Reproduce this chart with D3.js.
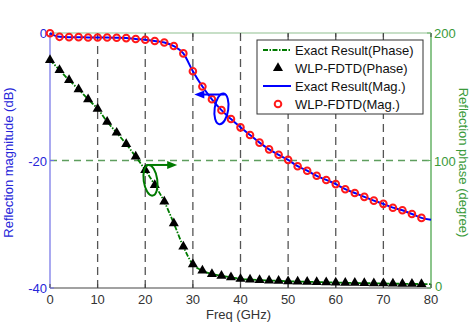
<!DOCTYPE html>
<html>
<head>
<meta charset="utf-8">
<script src="https://cdn.jsdelivr.net/npm/d3@7/dist/d3.min.js"></script>
<style>
  html, body { margin: 0; padding: 0; background: #fff; }
  svg { display: block; font-family: "Liberation Sans", Arial, sans-serif; }
</style>
</head>
<body>
<svg id="chart" width="474" height="323"></svg>
<script>
// frequency samples (GHz)
var freq = [0, 2, 4, 6, 8, 10, 12, 14, 16, 18, 20, 22, 24, 26, 28, 30, 32, 34, 36, 38,
            40, 42, 44, 46, 48, 50, 52, 54, 56, 58, 60, 62, 64, 66, 68, 70, 72, 74, 76, 78, 80];
// reflection phase (degree)
var phase = [178.8, 171, 163, 155.8, 148, 140.6, 130.4, 121.8, 112.9, 103, 92.5, 80.8, 67.7, 50.7, 32.4,
             18.6, 13.6, 11, 9.6, 8.4, 7.1, 6.6, 6.2, 5.9, 5.6, 5.3, 5.1, 4.9, 4.7, 4.5,
             4.3, 4.1, 4.0, 3.8, 3.7, 3.6, 3.4, 3.3, 3.2, 3.1, 3.0];
// reflection magnitude (dB)
var magnitude = [-0.05, -0.6, -0.65, -0.65, -0.7, -0.7, -0.7, -0.75, -0.8, -0.95, -1.05, -1.25, -1.5, -2.05, -3.2,
                 -6.0, -8.4, -10.4, -12.1, -13.5, -14.8, -16.0, -17.2, -18.25, -19.1, -19.9, -20.9, -21.6, -22.4, -23.05,
                 -23.7, -24.5, -25.1, -25.7, -26.3, -26.8, -27.4, -27.8, -28.4, -29.0, -29.3];

var xTicks = [0, 10, 20, 30, 40, 50, 60, 70, 80];
var magTicks = [0, -20, -40];
var phaseTicks = [200, 100, 0];
var legendLabels = ['Exact Result(Phase)', 'WLP-FDTD(Phase)', 'Exact Result(Mag.)', 'WLP-FDTD(Mag.)'];

// annotation marks: [freq, value] of ellipse centres and arrow ends
var magNote = { centre: [36, -11.9], from: [36.7, -9.65], to: [30.3, -9.65] };
var phaseNote = { centre: [21.1, 84.5], from: [20.2, 96.5], to: [26.7, 96.5] };

var margin = { top: 33, left: 50, bottom: 35, right: 43 };
var W = 474, H = 323;
var svg = d3.select('#chart');
var innerW = W - margin.left - margin.right;
var innerH = H - margin.top - margin.bottom;

var blue = '#0000ff', blueText = '#2626d9', blueAxis = '#6f6fe6';
var green = '#007a00', greenText = '#3a9a3a', greenAxis = '#66b266';

var x = d3.scaleLinear().domain([0, 80]).range([0, innerW]);
var yMag = d3.scaleLinear().domain([-40, 0]).range([innerH, 0]);
var yPh = d3.scaleLinear().domain([0, 200]).range([innerH, 0]);

var g = svg.append('g').attr('transform', 'translate(' + [margin.left, margin.top] + ')');

var markIdx = d3.range(freq.length - 1);  // markers at 0..78 GHz

// vertical grid
g.selectAll('.vgrid').data(xTicks.slice(1, -1)).enter().append('line')
  .attr('x1', function(d) { return x(d); }).attr('x2', function(d) { return x(d); })
  .attr('y1', 0).attr('y2', innerH)
  .style('stroke', '#555').style('stroke-width', 1.3).style('stroke-dasharray', '8,5');

// horizontal grid at -20 dB / 100 deg
g.append('line')
  .attr('x1', 0).attr('x2', innerW).attr('y1', yMag(-20)).attr('y2', yMag(-20))
  .style('stroke', '#5e9e5e').style('stroke-width', 1.3).style('stroke-dasharray', '7,5');

// frame
g.append('line').attr('x1', 0).attr('x2', innerW).attr('y1', 0).attr('y2', 0)
  .style('stroke', '#8fbf8f').style('stroke-width', 1);
g.append('line').attr('x1', 0).attr('x2', innerW).attr('y1', innerH).attr('y2', innerH)
  .style('stroke', '#444').style('stroke-width', 1.2);
g.append('line').attr('x1', 0).attr('x2', 0).attr('y1', 0).attr('y2', innerH)
  .style('stroke', blueAxis).style('stroke-width', 1.2);
g.append('line').attr('x1', innerW).attr('x2', innerW).attr('y1', 0).attr('y2', innerH)
  .style('stroke', greenAxis).style('stroke-width', 1.5);

// ticks (inward)
g.selectAll('.xtb').data(xTicks).enter().append('line')
  .attr('x1', function(d) { return x(d); }).attr('x2', function(d) { return x(d); })
  .attr('y1', innerH).attr('y2', innerH - 4).style('stroke', '#444');
g.selectAll('.xtt').data(xTicks).enter().append('line')
  .attr('x1', function(d) { return x(d); }).attr('x2', function(d) { return x(d); })
  .attr('y1', 0).attr('y2', 4).style('stroke', '#444');
g.selectAll('.ytl').data(magTicks).enter().append('line')
  .attr('x1', 0).attr('x2', 4).attr('y1', function(d) { return yMag(d); }).attr('y2', function(d) { return yMag(d); })
  .style('stroke', blueAxis);
g.selectAll('.ytr').data(phaseTicks).enter().append('line')
  .attr('x1', innerW).attr('x2', innerW - 4).attr('y1', function(d) { return yPh(d); }).attr('y2', function(d) { return yPh(d); })
  .style('stroke', greenAxis);

// tick labels
g.selectAll('.xl').data(xTicks).enter().append('text')
  .attr('x', function(d) { return x(d); }).attr('y', innerH + 16)
  .attr('text-anchor', 'middle').style('font-size', '13px').style('fill', '#333')
  .text(function(d) { return d; });
g.selectAll('.yl').data(magTicks).enter().append('text')
  .attr('x', -3).attr('y', function(d) { return yMag(d) + 5; })
  .attr('text-anchor', 'end').style('font-size', '13px').style('fill', blueText)
  .text(function(d) { return d; });
g.selectAll('.yr').data(phaseTicks).enter().append('text')
  .attr('x', function(d) { return innerW + (d === 0 ? 4 : 3); })
  .attr('y', function(d) { return yPh(d) + (d === 0 ? 3 : 5); })
  .attr('text-anchor', 'start').style('font-size', '13px').style('fill', greenText)
  .text(function(d) { return d; });

// axis titles
g.append('text').attr('x', innerW / 2 - 2).attr('y', innerH + 31)
  .attr('text-anchor', 'middle').style('font-size', '13px').style('fill', '#333')
  .text('Freq (GHz)');
g.append('text').attr('transform', 'translate(' + [-37, innerH / 2 + 2] + ') rotate(-90)')
  .attr('text-anchor', 'middle').style('font-size', '13px').style('fill', blueText)
  .text('Reflection magnitude (dB)');
g.append('text').attr('transform', 'translate(' + [innerW + 28, innerH / 2 + 2] + ') rotate(90)')
  .attr('text-anchor', 'middle').style('font-size', '13px').style('fill', greenText)
  .text('Reflection phase (degree)');

// curves
var phaseLine = d3.line()
  .x(function(i) { return x(freq[i]); })
  .y(function(i) { return yPh(phase[i]); })
  .curve(d3.curveMonotoneX);
var magLine = d3.line()
  .x(function(i) { return x(freq[i]); })
  .y(function(i) { return yMag(magnitude[i]); })
  .curve(d3.curveMonotoneX);

g.append('path').datum(d3.range(freq.length)).attr('d', phaseLine)
  .style('fill', 'none').style('stroke', green).style('stroke-width', 1.8)
  .style('stroke-dasharray', '5,1.5,1.5,1.5');
g.append('path').datum(d3.range(freq.length)).attr('d', magLine)
  .style('fill', 'none').style('stroke', blue).style('stroke-width', 2);

var tri = d3.symbol().type(d3.symbolTriangle).size(44);
g.selectAll('.tri').data(markIdx).enter().append('path')
  .attr('d', tri)
  .attr('transform', function(i) { return 'translate(' + [x(freq[i]), yPh(phase[i])] + ')'; })
  .style('fill', '#000');
g.selectAll('.circ').data(markIdx).enter().append('circle')
  .attr('cx', function(i) { return x(freq[i]); })
  .attr('cy', function(i) { return yMag(magnitude[i]); })
  .attr('r', 3.3)
  .style('fill', 'none').style('stroke', '#ff1a1a').style('stroke-width', 2);

// annotations
function drawNote(note, yScale, colour, tilt) {
  var cx = x(note.centre[0]), cy = yScale(note.centre[1]);
  g.append('ellipse').attr('cx', cx).attr('cy', cy).attr('rx', 6.8).attr('ry', 15.5)
    .attr('transform', 'rotate(' + tilt + ',' + cx + ',' + cy + ')')
    .style('fill', 'none').style('stroke', colour).style('stroke-width', 2);
  var x1 = x(note.from[0]), x2 = x(note.to[0]), yy = yScale(note.from[1]);
  var dir = x2 > x1 ? 1 : -1;
  g.append('line').attr('x1', x1).attr('x2', x2 - dir * 6).attr('y1', yy).attr('y2', yy)
    .style('stroke', colour).style('stroke-width', 2);
  g.append('path')
    .attr('d', 'M' + x2 + ',' + yy + 'L' + (x2 - dir * 10) + ',' + (yy - 4) + 'L' + (x2 - dir * 10) + ',' + (yy + 4) + 'Z')
    .style('fill', colour);
}
drawNote(magNote, yMag, blue, 8);
drawNote(phaseNote, yPh, green, -8);

// legend
var lg = g.append('g').attr('transform', 'translate(' + [207, 7] + ')');
lg.append('rect').attr('width', 166).attr('height', 74)
  .style('fill', '#fff').style('stroke', '#333').style('stroke-width', 1);
var rowY = function(k) { return 10 + k * 18; };
lg.append('line').attr('x1', 6).attr('x2', 34).attr('y1', rowY(0)).attr('y2', rowY(0))
  .style('stroke', green).style('stroke-width', 1.8).style('stroke-dasharray', '5,1.5,1.5,1.5');
lg.append('path').attr('d', tri).attr('transform', 'translate(' + [21, rowY(1)] + ')').style('fill', '#000');
lg.append('line').attr('x1', 6).attr('x2', 34).attr('y1', rowY(2)).attr('y2', rowY(2))
  .style('stroke', blue).style('stroke-width', 2);
lg.append('circle').attr('cx', 21).attr('cy', rowY(3)).attr('r', 3.3)
  .style('fill', 'none').style('stroke', '#ff1a1a').style('stroke-width', 2);
lg.selectAll('.lt').data(legendLabels).enter().append('text')
  .attr('x', 38).attr('y', function(d, k) { return rowY(k) + 5; })
  .style('font-size', '13px').style('fill', '#111')
  .text(function(d) { return d; });
</script>
</body>
</html>
